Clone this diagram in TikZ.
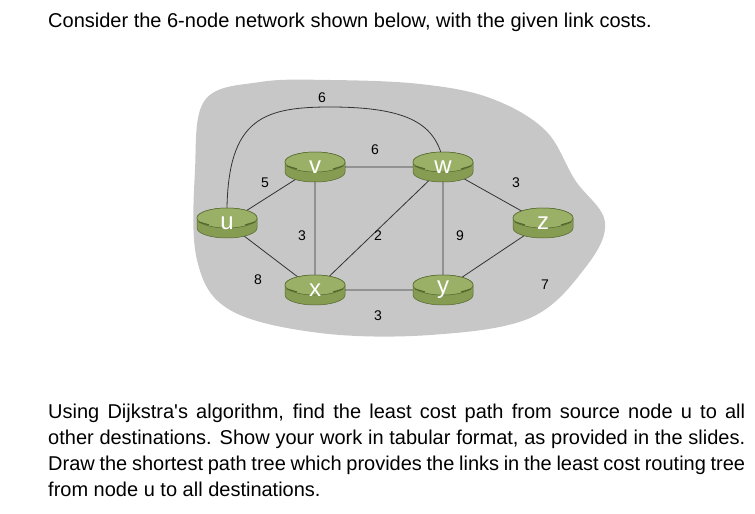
\documentclass[tikz,border=0pt]{standalone}
\usepackage{fontspec}
\setmainfont{Liberation Sans}
\begin{document}
\begin{tikzpicture}[x=1pt,y=-1pt,
  lbl/.style={font=\fontsize{14}{16}\selectfont},
  link/.style={draw=black!80,line width=0.8pt},
  txt/.style={font=\fontsize{20}{26}\selectfont,anchor=north west,inner sep=0pt}]
\useasboundingbox (0,0) rectangle (755,514);
\definecolor{rg}{HTML}{859C52}
\definecolor{rgd}{HTML}{55672E}
\definecolor{rgt}{HTML}{9AB066}
\fill[black!22] plot[smooth cycle,tension=0.6] coordinates {(205,100)(260,82)(330,80)(420,84)(490,98)(545,130)(575,180)(605,222)(585,268)(530,318)(430,335)(320,333)(230,310)(197,260)(195,170)};
\foreach \n/\px/\py in {u/227/223,v/315/167,w/443/167,z/543/223,x/315/290,y/443/290}{
  \coordinate (\n) at (\px,\py);
}
\draw[link] (u) -- (v) (u) -- (x) (v) -- (w) (v) -- (x) (x) -- (w) (w) -- (y) (x) -- (y) (w) -- (z) (y) -- (z);
\draw[link] (u) .. controls (225,120) and (260,107) .. (330,107) .. controls (410,107) and (435,125) .. (443,160);
\foreach \n/\t in {u/u,v/v,w/w,z/z,x/x,y/y}{
  \begin{scope}[shift={(\n)}]
    \fill[rg,draw=rgd,line width=0.5pt] (-30,-5) -- (-30,5) arc[start angle=180,end angle=0,x radius=30,y radius=10] -- (30,-5) arc[start angle=0,end angle=-180,x radius=30,y radius=10] -- cycle;
    \fill[rgt,draw=rgd,line width=0.5pt] (0,-5) ellipse[x radius=30,y radius=10];
    \draw[rgd,line width=1.2pt] (-28,-1) -- (-18,2) (28,-1) -- (18,2);
    \node[white,font=\fontsize{24}{24}\selectfont,inner sep=0pt] (\n l) at (0,0) {\t};
  \end{scope}
}
\node[lbl] (a) at (322,98) {6};
\node[lbl] (b) at (375,150) {6};
\node[lbl] (c) at (265,183) {5};
\node[lbl] (d) at (302,236) {3};
\node[lbl] (e) at (378,236) {2};
\node[lbl] (f) at (460,236) {9};
\node[lbl] (g) at (516,183) {3};
\node[lbl] (h) at (258,280) {8};
\node[lbl] (i) at (378,316) {3};
\node[lbl] (j) at (545,285) {7};
\node[txt] (t1) at (48,13) {Consider the 6-node network shown below, with the given link costs.};
\node[txt,text width=697pt,align=justify] (t2) at (48,404) {Using Dijkstra\textquotesingle s algorithm, find the least cost path from source node u to all\linebreak other destinations. Show your work in tabular format, as provided in the slides.\linebreak Draw the shortest path tree which provides the links in the least cost routing tree\linebreak from node u to all destinations.};
\end{tikzpicture}
\end{document}
